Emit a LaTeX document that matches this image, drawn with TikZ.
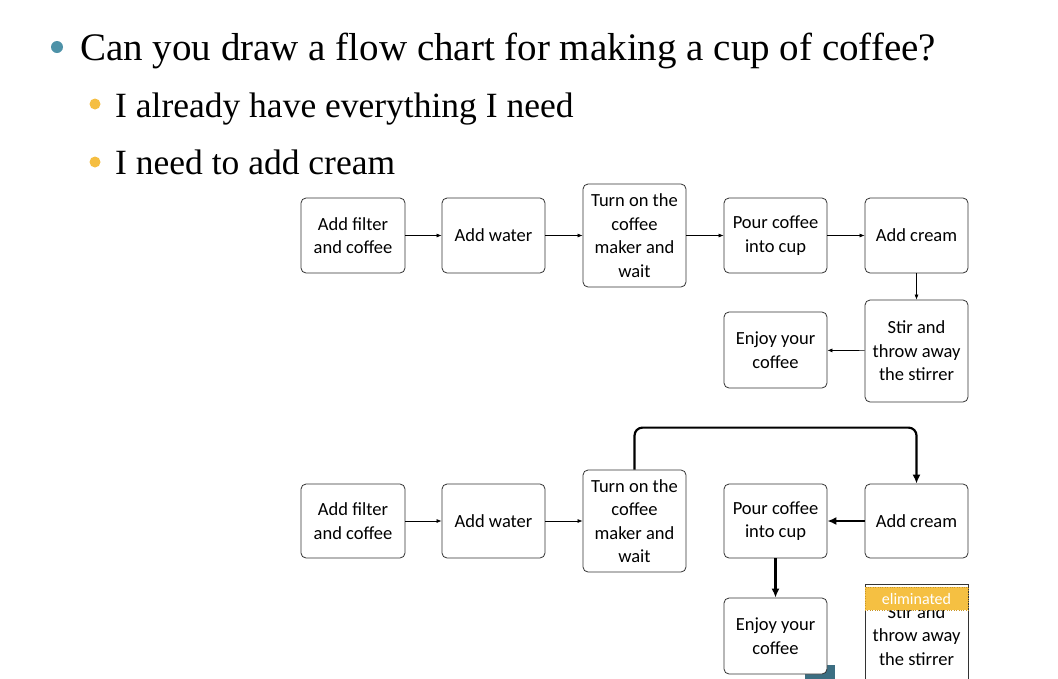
\documentclass[tikz,border=0pt]{standalone}
\usepackage{fontspec}
\setmainfont{Liberation Serif}
\newfontfamily\carfont{Carlito}
\usetikzlibrary{arrows.meta}
\begin{document}
\begin{tikzpicture}[x=1pt,y=-1pt,
 box/.style={draw=black!80,line width=0.8pt,rounded corners=5pt,fill=white,inner sep=0pt,align=center,font=\carfont\fontsize{18.5}{23.5}\selectfont},
 thin/.style={-{Latex[length=5pt,width=4pt]},line width=0.7pt},
 thick/.style={-{Latex[length=9pt,width=8pt]},line width=2.2pt},
 tt/.style={font=\fontsize{39}{42}\selectfont,anchor=base west,inner sep=0pt}]
\useasboundingbox (0,0) rectangle (1058,678);
\begin{scope}
\clip (0,0) rectangle (1058,678);
\fill[fill={rgb,255:red,78;green,146;blue,168}] (57,47) circle (6);
\node[tt] (t1) at (80,60) {Can you draw a flow chart for making a cup of coffee?};
\fill[fill={rgb,255:red,245;green,190;blue,65}] (95,104) circle (5.5);
\node[tt,font=\fontsize{35.5}{38}\selectfont] (t2) at (115,117) {I already have everything I need};
\fill[fill={rgb,255:red,245;green,190;blue,65}] (95,162) circle (5.5);
\node[tt,font=\fontsize{35.5}{38}\selectfont] (t3) at (115,174) {I need to add cream};
% row 1
\node[box,minimum width=104,minimum height=75] (a1) at (353,235.5) {Add filter\\and coffee};
\node[box,minimum width=103,minimum height=75] (a2) at (493.5,235.5) {Add water};
\node[box,minimum width=103,minimum height=103] (a3) at (634.5,235.5) {Turn on the\\coffee\\maker and\\wait};
\node[box,minimum width=103,minimum height=75] (a4) at (775.5,235.5) {Pour coffee\\into cup};
\node[box,minimum width=103,minimum height=75] (a5) at (916.5,235.5) {Add cream};
\node[box,minimum width=103,minimum height=102] (a6) at (916.5,351) {Stir and\\throw away\\the stirrer};
\node[box,minimum width=103,minimum height=76] (a7) at (775.5,350) {Enjoy your\\coffee};
\draw[thin] (a1) -- (a2);
\draw[thin] (a2) -- (a3);
\draw[thin] (a3) -- (a4);
\draw[thin] (a4) -- (a5);
\draw[thin] (a5) -- (a6);
\draw[thin] (a6) -- (a7);
% row 2
\node[box,minimum width=104,minimum height=74] (b1) at (353,521) {Add filter\\and coffee};
\node[box,minimum width=103,minimum height=74] (b2) at (493.5,521) {Add water};
\node[box,minimum width=103,minimum height=102] (b3) at (634.5,521) {Turn on the\\coffee\\maker and\\wait};
\node[box,minimum width=103,minimum height=74] (b4) at (775.5,521) {Pour coffee\\into cup};
\node[box,minimum width=103,minimum height=74] (b5) at (916.5,521) {Add cream};
\fill[fill={rgb,255:red,60;green,110;blue,130}] (805,665) rectangle (835,690);
\node[box,minimum width=103,minimum height=76] (b7) at (775.5,636) {Enjoy your\\coffee};
\node[box,rounded corners=0pt,minimum width=103,minimum height=102,anchor=north] (b6) at (916.5,584) {Stir and\\throw away\\the stirrer};
\node[fill={rgb,255:red,245;green,192;blue,66},draw={rgb,255:red,200;green,150;blue,40},dotted,minimum width=103,minimum height=23,inner sep=0pt,anchor=north,text=white,font=\carfont\fontsize{16}{18}\selectfont] (el) at (916.5,587) {eliminated};
\draw[thin] (b1) -- (b2);
\draw[thin] (b2) -- (b3);
\draw[thick,rounded corners=8pt] (b3.north) -- ++(0,-42) -| (b5.north);
\draw[thick] (b5) -- (b4);
\draw[thick] (b4) -- (b7);
\end{scope}
\end{tikzpicture}
\end{document}
